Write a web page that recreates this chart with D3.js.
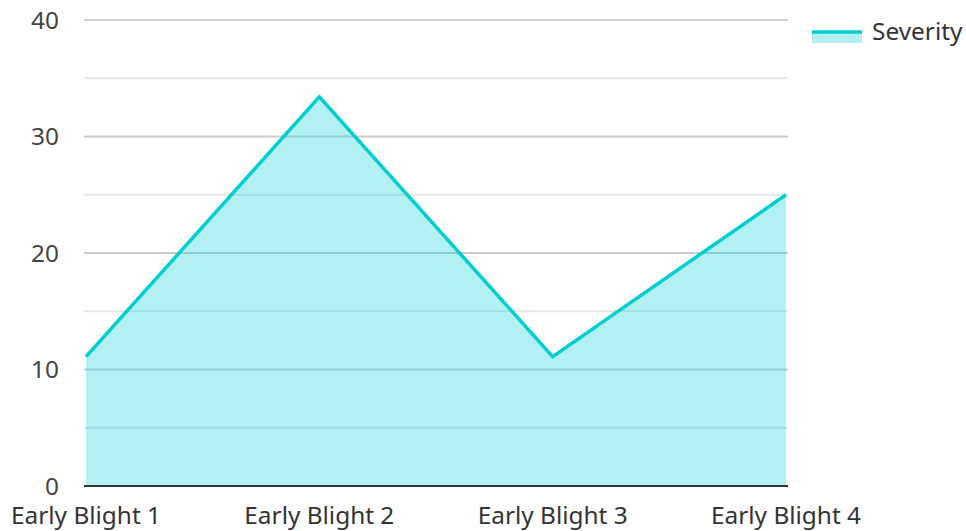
<!doctype html>
<html>
<head>
<script src="https://cdnjs.cloudflare.com/ajax/libs/d3/7.8.5/d3.min.js"></script>
<style>
  body { margin: 0; background: #fff; }
  text { font-family: "Noto Sans", sans-serif; }
</style>
</head>
<body>
<svg id="chart" width="966" height="531"></svg>
<script>
// data
var categories = ["Early Blight 1", "Early Blight 2", "Early Blight 3", "Early Blight 4"];
var severity = [11.1, 33.4, 11.1, 25.0];
var yTicks = [0, 10, 20, 30, 40];
var yMinorTicks = [5, 15, 25, 35];
var seriesName = "Severity";

var svg = d3.select("#chart");
var lineColor = "#00CED1";
var fontSize = 24.4;

var x = d3.scalePoint().domain(categories).range([86, 786]);
var y = d3.scaleLinear().domain([0, 40]).range([486, 20]);

// grid
svg.append("g").selectAll("line.minor")
    .data(yMinorTicks).enter().append("line")
    .attr("x1", 84).attr("x2", 788)
    .attr("y1", d => y(d)).attr("y2", d => y(d))
    .attr("stroke", "#e6e6e6").attr("stroke-width", 2);

svg.append("g").selectAll("line.major")
    .data(yTicks.filter(d => d > 0)).enter().append("line")
    .attr("x1", 84).attr("x2", 788)
    .attr("y1", d => y(d)).attr("y2", d => y(d))
    .attr("stroke", "#cccccc").attr("stroke-width", 2);

// area + line
var data = categories.map((c, i) => ({ c: c, v: severity[i] }));
var area = d3.area().x(d => x(d.c)).y0(y(0)).y1(d => y(d.v));
var line = d3.line().x(d => x(d.c)).y(d => y(d.v));

svg.append("path").datum(data)
    .attr("d", area)
    .attr("fill", lineColor).attr("fill-opacity", 0.3);

svg.append("path").datum(data)
    .attr("d", line)
    .attr("fill", "none")
    .attr("stroke", lineColor).attr("stroke-width", 3.5);

// x axis line
svg.append("line")
    .attr("x1", 84).attr("x2", 788)
    .attr("y1", y(0)).attr("y2", y(0))
    .attr("stroke", "#333").attr("stroke-width", 2);

// y tick labels
svg.append("g").selectAll("text")
    .data(yTicks).enter().append("text")
    .attr("x", 59).attr("y", d => y(d))
    .attr("dy", "0.35em")
    .attr("text-anchor", "end")
    .attr("font-size", fontSize).attr("fill", "#444")
    .text(d => d);

// x labels
svg.append("g").selectAll("text")
    .data(categories).enter().append("text")
    .attr("x", d => x(d)).attr("y", 524)
    .attr("text-anchor", "middle")
    .attr("font-size", fontSize).attr("fill", "#333")
    .text(d => d);

// legend
var lg = svg.append("g");
lg.append("rect").attr("x", 812).attr("y", 31).attr("width", 50).attr("height", 12)
    .attr("fill", lineColor).attr("fill-opacity", 0.3);
lg.append("line").attr("x1", 812).attr("x2", 862).attr("y1", 32).attr("y2", 32)
    .attr("stroke", lineColor).attr("stroke-width", 3.5);
lg.append("text").attr("x", 872).attr("y", 40)
    .attr("font-size", fontSize).attr("fill", "#333")
    .text(seriesName);
</script>
</body>
</html>
